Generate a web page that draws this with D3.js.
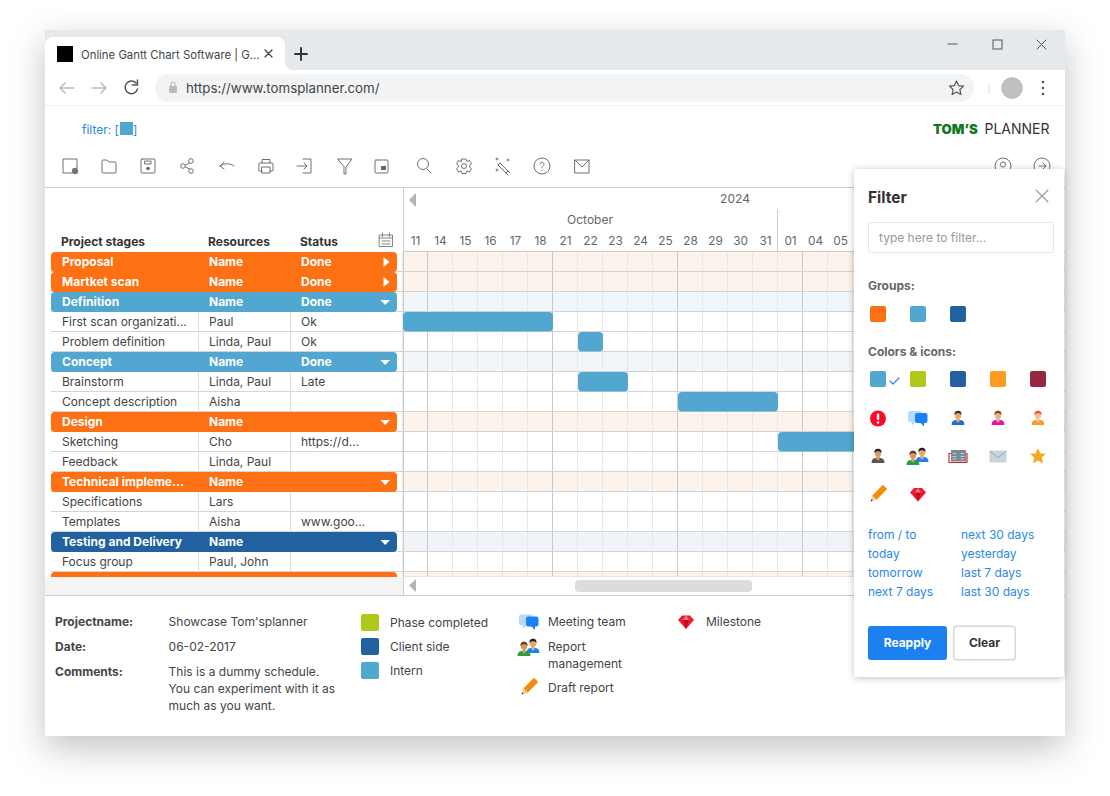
<![CDATA[<!DOCTYPE html>
<html><head><meta charset="utf-8">
<script src="https://cdn.jsdelivr.net/npm/d3@7"></script>
<style>html,body{margin:0;background:#fff;overflow:hidden}svg{display:block}text{font-family:Inter,"Noto Sans",sans-serif}</style>
</head><body><svg id="c" width="1110" height="796"></svg>
<script>
const days=["11","14","15","16","17","18","21","22","23","24","25","28","29","30","31","01","04","05","06"];
const visibleDays=18;
const weekStarts=["14","21","28","04"];
const stages=["Proposal","Martket scan","Definition","First scan organizati...","Problem definition","Concept","Brainstorm","Concept description","Design","Sketching","Feedback","Technical impleme...","Specifications","Templates","Testing and Delivery","Focus group",""];
const resources=["Name","Name","Name","Paul","Linda, Paul","Name","Linda, Paul","Aisha","Name","Cho","Linda, Paul","Name","Lars","Aisha","Name","Paul, John",""];
const statuses=["Done","Done","Done","Ok","Ok","Done","Late","","","https://d...","","","","www.goo...","","",""];
const groups=["o","o","b","","","b","","","o","","","o","","","d","","o"];
const collapsed=[1,1,0,0,0,0,0,0,0,0,0,0,0,0,0,0,0];
const barRows=[3,4,6,7,9];
const barStart=[0,7,7,11,15];
const barEnd=[5,7,8,14,18];
const groupColor={o:"#fd7014",b:"#52a7d0",d:"#21619f"};
const groupTint={o:"#fcf3ec",b:"#f1f6fa",d:"#f0f3f7"};
const legendSwatches=["Phase completed","Client side","Intern"];
const legendSwatchColors=["#b1c71c","#21619f","#52a7d0"];
const groupSwatches=["#fd7014","#52a7d0","#21619f"];
const colorSwatches=["#52a7d0","#b1c71c","#21619f","#fd9a20","#99263f"];
const linksLeft=["from / to","today","tomorrow","next 7 days"];
const linksRight=["next 30 days","yesterday","last 7 days","last 30 days"];
const metaLabels=["Projectname:","Date:","Comments:"];
const metaValues=["Showcase Tom'splanner","06-02-2017","This is a dummy schedule."];
const metaExtra=["You can experiment with it as","much as you want."];

const svg=d3.select("#c");
const defs=svg.append("defs");
const sh=defs.append("filter").attr("id","win").attr("x","-10%").attr("y","-10%").attr("width","120%").attr("height","125%");
sh.append("feDropShadow").attr("dx",0).attr("dy",12).attr("stdDeviation",18).attr("flood-color","#000").attr("flood-opacity",.24);
const sp=defs.append("filter").attr("id","pan").attr("x","-20%").attr("y","-10%").attr("width","130%").attr("height","120%");
sp.append("feDropShadow").attr("dx",0).attr("dy",1).attr("stdDeviation",3.5).attr("flood-color","#000").attr("flood-opacity",.25);
defs.append("clipPath").attr("id","body").append("rect").attr("x",45).attr("y",188).attr("width",1020).attr("height",389);
defs.append("clipPath").attr("id","top").append("rect").attr("x",45).attr("y",30).attr("width",1020).attr("height",706);

const T=(g,x,y,s,o={})=>g.append("text").attr("x",x).attr("y",y).text(s).attr("font-size",o.size||12).attr("font-weight",o.w||400).attr("fill",o.fill||"#444").attr("text-anchor",o.a||"start");
const R=(g,x,y,w,h,f,r=0)=>g.append("rect").attr("x",x).attr("y",y).attr("width",w).attr("height",h).attr("fill",f).attr("rx",r);
const L=(g,x1,y1,x2,y2,c="#ccc",w=1)=>g.append("line").attr("x1",x1).attr("y1",y1).attr("x2",x2).attr("y2",y2).attr("stroke",c).attr("stroke-width",w);
const P=(g,d,o={})=>g.append("path").attr("d",d).attr("fill",o.fill||"none").attr("stroke",o.stroke||(o.fill?"none":"#707070")).attr("stroke-width",o.sw||1).attr("stroke-linejoin","round").attr("stroke-linecap","round");

R(svg,45,30,1020,706,"#fff").attr("filter","url(#win)");
const w=svg.append("g").attr("clip-path","url(#top)");
// browser chrome
R(w,45,30,1020,40,"#e6e9ec");
w.append("path").attr("d","M45 70V45a8 8 0 0 1 8-8H277a8 8 0 0 1 8 8V62a8 8 0 0 0 8 8Z").attr("fill","#fff");
R(w,57,46,16,16,"#000");
T(w,81,59,"Online Gantt Chart Software | G...",{size:11.35,fill:"#444"});
P(w,"M265 50l7 7M272 50l-7 7",{stroke:"#444",sw:1.3});
P(w,"M295 54h12M301 48v12",{stroke:"#333",sw:1.9});
P(w,"M948 44h9",{stroke:"#555",sw:1});
w.append("rect").attr("x",993).attr("y",40).attr("width",9).attr("height",9).attr("fill","none").attr("stroke","#555");
P(w,"M1037 40l9 9M1046 40l-9 9",{stroke:"#555",sw:1});
// address bar
R(w,155,74,819,28,"#f1f3f4",14);
L(w,45,105.5,1065,105.5,"#f1f1f1");
P(w,"M60 88h14M60 88l5-5M60 88l5 5",{stroke:"#bbb",sw:1.5});
P(w,"M92 88h14M106 88l-5-5M106 88l-5 5",{stroke:"#bbb",sw:1.5});
P(w,"M136 83a6.3 6.3 0 1 0 1.5 6M137.5 80v5h-5",{stroke:"#555",sw:1.5});
R(w,169,86,8,7,"#bbb",1);P(w,"M171 86v-2a2 2 0 0 1 4 0v2",{stroke:"#bbb",sw:1.2});
T(w,186,93,"https://www.tomsplanner.com/",{size:13.3,fill:"#444"});
P(w,"M956.5 81l2.1 4.6 5 .5-3.7 3.4 1 5-4.4-2.5-4.4 2.5 1-5-3.7-3.4 5-.5Z",{stroke:"#555",sw:1.2});
L(w,989,83,989,94,"#ddd");
w.append("circle").attr("cx",1012).attr("cy",88).attr("r",10.5).attr("fill","#c0c0c0").attr("stroke","#aaa").attr("stroke-width",.5);
[82,88,94].forEach(y=>w.append("circle").attr("cx",1043).attr("cy",y).attr("r",1.3).attr("fill","#555"));
// filter + logo
T(w,82,134,"filter: [",{size:12,fill:"#2b88e8"});
R(w,120,122,13,13,"#52a7d0");
T(w,133,134,"]",{size:12,fill:"#2b88e8"});
T(w,933,134,"TOM’S",{size:13.2,w:900,fill:"#11761f"});
T(w,984.5,134,"PLANNER",{size:14,fill:"#333"});
// toolbar
const tb=w.append("g");
const icon=(x,d)=>{const g=tb.append("g").attr("transform",`translate(${x},166)`);P(g,d);return g;};
icon(70,"M2 7H-7V-7H7V2").append("circle").attr("cx",5).attr("cy",5).attr("r",3.2).attr("fill","#777");
icon(109,"M-7-5a1 1 0 0 1 1-1H-2L0-4H6a1 1 0 0 1 1 1V6a1 1 0 0 1-1 1H-6a1 1 0 0 1-1-1Z");
const sv=icon(148,"M-6-7H6a1 1 0 0 1 1 1V6a1 1 0 0 1-1 1H-6a1 1 0 0 1-1-1V-6a1 1 0 0 1 1-1ZM-3-5H3V-2H-3Z");sv.append("circle").attr("r",1.8).attr("cy",2.5).attr("fill","#666");
const sr=icon(187,"M-3 0L4-4M-3 0L4 4");[[-4,0],[4,-5],[4,5]].forEach(p=>sr.append("circle").attr("cx",p[0]).attr("cy",p[1]).attr("r",2.3).attr("fill","#fff").attr("stroke","#707070"));
icon(227,"M-7 0L-3-4M-7 0L-3 3M-7 0C-3-3 3-3 7 0");
icon(266,"M-4-3V-6.5H4V-3M-4 5H-6.5a.7.7 0 0 1-.7-.7V-2a1 1 0 0 1 1-1H6a1 1 0 0 1 1 1V4.3a.7.7 0 0 1-.7.7H4M-4 1H4V7H-4Z");
icon(305,"M-2-7H6V7H-2M-8 0H2M-1-3L2 0-1 3");
icon(345,"M-7-7H7L1 1V8H-1V1Z");
const s2=icon(381,"M-5-6H6a1 1 0 0 1 1 1V6a1 1 0 0 1-1 1H-5a1 1 0 0 1-1-1V-5a1 1 0 0 1 1-1Z");s2.append("rect").attr("x",0).attr("y",0).attr("width",5).attr("height",4).attr("fill","#666");
const m=icon(424,"M3 3L7 7");m.append("circle").attr("cx",-1).attr("cy",-2).attr("r",5.5).attr("fill","none").attr("stroke","#707070");
const gr=icon(464,"M-2-7H2L3-4.5 5.5-5.5 7.5-2 5.5-.5V1L7.5 2.5 5.5 6 3 5 2 7.5H-2L-3 5-5.5 6-7.5 2.5-5.5 1V-.5L-7.5-2-5.5-5.5-3-4.5Z");gr.append("circle").attr("r",2.5).attr("fill","none").attr("stroke","#707070");
icon(503,"M-3-3L7 7M-5-1L5 9M-3-3L-5-1M5 5L3 7M-7-7h2M-6-8v2M4-6h2M5-7v2M-7 4h2M-6 3v2");
const hp=icon(542,"M-2-2a2 2 0 1 1 3 2c-1 .7-1 1-1 2M0 4.5v.3");hp.append("circle").attr("r",8).attr("fill","none").attr("stroke","#707070");
icon(582,"M-7-6H7V7H-7ZM-7-6L0 1 7-6");
const us=icon(1003,"M-3 6C-3 3 3 3 3 6");us.append("circle").attr("r",8).attr("fill","none").attr("stroke","#707070");us.append("circle").attr("r",2.6).attr("cy",-1.5).attr("fill","none").attr("stroke","#707070");
const ex=icon(1042,"M-3 0H4M1-3L4 0 1 3");ex.append("circle").attr("r",8).attr("fill","none").attr("stroke","#707070");

// gantt
const x=d3.scaleBand().domain(d3.range(days.length)).range([403,403+25*days.length]);
const y=d3.scaleBand().domain(d3.range(stages.length)).range([252,252+20*stages.length]);
L(w,45,187.5,1065,187.5,"#ccc");
L(w,403.5,188,403.5,252,"#ccc");
L(w,403,251.5,1065,251.5,"#ccc");
L(w,777.5,209,777.5,252,"#ccc");
P(w,"M416 193V207L409 200Z",{fill:"#b5b5b5"});
T(w,735,203,"2024",{a:"middle",size:12,fill:"#666"});
T(w,590,224,"October",{a:"middle",size:12,fill:"#666"});
w.append("g").selectAll("text").data(days.slice(0,visibleDays)).join("text").attr("x",(d,i)=>x(i)+x.bandwidth()/2).attr("y",245.3).attr("text-anchor","middle").attr("font-size",11.8).attr("fill","#666").text(d=>d);
T(w,61,246,"Project stages",{w:700,fill:"#333"});
T(w,208,246,"Resources",{w:700,fill:"#333"});
T(w,300,246,"Status",{w:700,fill:"#333"});
const cal=w.append("g").attr("transform","translate(386,240)");
P(cal,"M-6.5-5H6.5V6.5H-6.5ZM-6.5-2H6.5M-3.5-7V-3.5M3.5-7V-3.5M-4 1H4M-4 4H4",{stroke:"#777",sw:.9});

const b=w.append("g").attr("clip-path","url(#body)");
stages.forEach((s,i)=>{ if(groups[i])R(b,403,y(i),662,20,groupTint[groups[i]]); });
// grid
const lineWeek=new Set(weekStarts.map(d=>days.indexOf(d)));
days.forEach((d,i)=>{const xx=x(i)-.5;L(b,xx,252,xx,596,lineWeek.has(i)?"#c9c9c9":"#e8e8e8");});
L(b,403.5,252,403.5,596,"#ccc");
stages.forEach((s,i)=>L(b,51,y(i)+19.5,1065,y(i)+19.5,"#d4d4d4"));
L(b,198.5,252,198.5,577,"#ddd");L(b,290.5,252,290.5,577,"#ddd");
// bars
b.selectAll("rect.bar").data(barRows).join("rect").attr("class","bar").attr("x",(d,i)=>x(barStart[i])).attr("y",d=>y(d)).attr("width",(d,i)=>x(barEnd[i])+x.bandwidth()-x(barStart[i])).attr("height",19.6).attr("rx",4).attr("fill","#52a7d0");
// rows
stages.forEach((s,i)=>{
  const yy=y(i),gp=groups[i],mid=yy+14;
  if(gp){
    R(b,51,yy,346,20,groupColor[gp],4);
    if(s)T(b,62,mid,s,{w:700,fill:"#fff"});
    if(resources[i])T(b,209,mid,resources[i],{w:700,fill:"#fff"});
    if(statuses[i])T(b,301,mid,statuses[i],{w:700,fill:"#fff"});
    if(i<stages.length-1){
      if(collapsed[i])P(b,`M383.5 ${yy+5}L389.5 ${yy+10}L383.5 ${yy+15}Z`,{fill:"#fff"});
      else P(b,`M380.5 ${yy+8}H390L385.2 ${yy+13}Z`,{fill:"#fff"});
    }
  } else {
    if(s)T(b,62,mid,s);
    if(resources[i])T(b,209,mid,resources[i]);
    if(statuses[i])T(b,301,mid,statuses[i]);
  }
});
// scrollbar
R(w,45,577,358,18,"#f4f4f4");R(w,403,577,662,18,"#fff");
L(w,403.5,577,403.5,595,"#ccc");L(w,45,595.5,1065,595.5,"#ccc");
L(w,403,576.5,1065,576.5,"#e4e4e4");
P(w,"M416 579V592L409 585.5Z",{fill:"#b5b5b5"});
R(w,575,580,177,12,"#dcdcdc",4);

// meta
metaLabels.forEach((s,i)=>T(w,55,[626,651,676][i],s,{w:700,size:12,fill:"#444"}));
metaValues.forEach((s,i)=>T(w,168.6,[626,651,676][i],s,{size:12,fill:"#444"}));
metaExtra.forEach((s,i)=>T(w,168.6,[693,710][i],s,{size:12,fill:"#444"}));
legendSwatches.forEach((s,i)=>{const yy=[614,638,662][i];R(w,361,yy,18,17,legendSwatchColors[i],2);T(w,390,yy+13,s,{size:12,fill:"#444"});});

// icon helpers
function chat(g,cx,cy){const h=g.append("g").attr("transform",`translate(${cx},${cy})`);
  P(h,"M-8-7.5H2a2 2 0 0 1 2 2V3.5H-3L-6 7V3.5H-8A2 2 0 0 1-10 1.5V-5.5A2 2 0 0 1-8-7.5Z",{fill:"#b9d9fb"});
  P(h,"M-1-5.5H7.5a2 2 0 0 1 2 2V2.5a2 2 0 0 1-2 2H6V8L2.5 4.5H-1a2 2 0 0 1-2-2V-3.5A2 2 0 0 1-1-5.5Z",{fill:"#1a82f7"});}
function person(g,cx,cy,hair,shirt,skin="#e8a868",sc=.8){const h=g.append("g").attr("transform",`translate(${cx},${cy}) scale(${sc})`);
  P(h,"M-8 10C-8 4-4 3.5 0 3.5S8 4 8 10Z",{fill:shirt});
  P(h,"M-2 2H2V5.5L0 7L-2 5.5Z",{fill:skin});
  h.append("ellipse").attr("cy",-2.5).attr("rx",4).attr("ry",5).attr("fill",skin);
  P(h,"M-4.4-2.5C-5.5-9.5 5.5-9.5 4.4-2.5C3-5.5-3-5.5-4.4-2.5Z",{fill:hair});}
function pair(g,cx,cy){person(g,cx+4,cy-2,"#222","#1a82f7");person(g,cx-5,cy+1,"#6a3b16","#2a9d3f","#d99a62");}
function pencil(g,cx,cy){const h=g.append("g").attr("transform",`translate(${cx},${cy}) rotate(45)`);
  P(h,"M-3-10H3V5H-3Z",{fill:"#f58a0b"});P(h,"M-3 5H3L0 10.5Z",{fill:"#f4c98e"});P(h,"M-1 8.6H1L0 10.5Z",{fill:"#333"});}
function gem(g,cx,cy){const h=g.append("g").attr("transform",`translate(${cx},${cy})`);
  P(h,"M-8-2L-4-6.5H4L8-2L0 7Z",{fill:"#ee1c2f"});P(h,"M-3-2H3L0 7Z",{fill:"#c40a24"});P(h,"M-3-2L0-6.5L3-2Z",{fill:"#ff7080"});}
chat(w,529,622);pair(w,529,647);pencil(w,529,687);gem(w,686,622);
T(w,548,626,"Meeting team",{size:12,fill:"#444"});
T(w,548,651,"Report",{size:12,fill:"#444"});T(w,548,668,"management",{size:12,fill:"#444"});
T(w,548,692,"Draft report",{size:12,fill:"#444"});
T(w,706,626,"Milestone",{size:12,fill:"#444"});

// filter panel
R(svg,854,169,210,508,"#fff",4).attr("filter","url(#pan)");
const p=svg.append("g");
T(p,868,202.5,"Filter",{size:15.5,w:700,fill:"#333"});
P(p,"M1036 190l12 12M1048 190l-12 12",{stroke:"#999",sw:1.1});
p.append("rect").attr("x",868.5).attr("y",222.5).attr("width",185).attr("height",30).attr("rx",2).attr("fill","#fff").attr("stroke","#e6e6e6");
T(p,879,242,"type here to filter...",{size:12,fill:"#999"});
T(p,868,290,"Groups:",{w:700,size:12,fill:"#666"});
groupSwatches.forEach((c,i)=>R(p,870+40*i,306,16,16,c,2));
T(p,868,355.5,"Colors & icons:",{w:700,size:12,fill:"#666"});
colorSwatches.forEach((c,i)=>R(p,870+40*i,371,16,16,c,2));
P(p,"M890 381l3 3 6-6",{stroke:"#2b88e8",sw:1.2});
const ex2=p.append("g").attr("transform","translate(878,418.5)");
ex2.append("circle").attr("r",8).attr("fill","#fb0a2a");R(ex2,-1.2,-5,2.4,6.5,"#fff",1);ex2.append("circle").attr("cy",4).attr("r",1.3).attr("fill","#fff");
chat(p,918,418.5);
person(p,958,417,"#333","#1f6fd6");
person(p,998,417,"#7c4a26","#e515a5","#e8b08a");
person(p,1038,417,"#f0512a","#fd9a20","#f2c29a");
person(p,878,455,"#222","#555","#d99a62");
pair(p,918,456);
const bk=p.append("g").attr("transform","translate(958,456.5)");
P(bk,"M-9-3V6H9V-3Z",{stroke:"#d8232a",sw:1.2});P(bk,"M-7-6.5H0V5H-7ZM0-6.5H8V5H0Z",{fill:"#7b8a97"});P(bk,"M-5-3H-2M-5 0H-2M-5 2.5H-2M3-3H6M3 0H6M3 2.5H6",{stroke:"#ddd",sw:.8});
const en=p.append("g").attr("transform","translate(998,456.5)");
R(en,-8.5,-6,17,12,"#c8d3dc",1);P(en,"M-8-5L0 1 8-5",{stroke:"#8aa0b0",sw:.8});
const st=p.append("g").attr("transform","translate(1038,456)");
P(st,"M0-8L2.4-2.6 8-2.2 3.8 1.6 5 7.5 0 4.5-5 7.5-3.8 1.6-8-2.2-2.4-2.6Z",{fill:"#f5a623"});
pencil(p,878,494);gem(p,918,494.5);
linksLeft.forEach((s,i)=>T(p,868,539+19*i,s,{size:12,fill:"#2b88e8"}));
linksRight.forEach((s,i)=>T(p,961,539+19*i,s,{size:12,fill:"#2b88e8"}));
R(p,868,626,79,34,"#1c80f0",3);
T(p,907.5,647,"Reapply",{a:"middle",w:700,size:12,fill:"#fff"});
p.append("rect").attr("x",953.75).attr("y",626.25).attr("width",61.5).attr("height",33.5).attr("rx",3).attr("fill","#fff").attr("stroke","#d8d8d8").attr("stroke-width",1.5);
T(p,984.5,647,"Clear",{a:"middle",w:700,size:12,fill:"#333"});
</script></body></html>]]>
